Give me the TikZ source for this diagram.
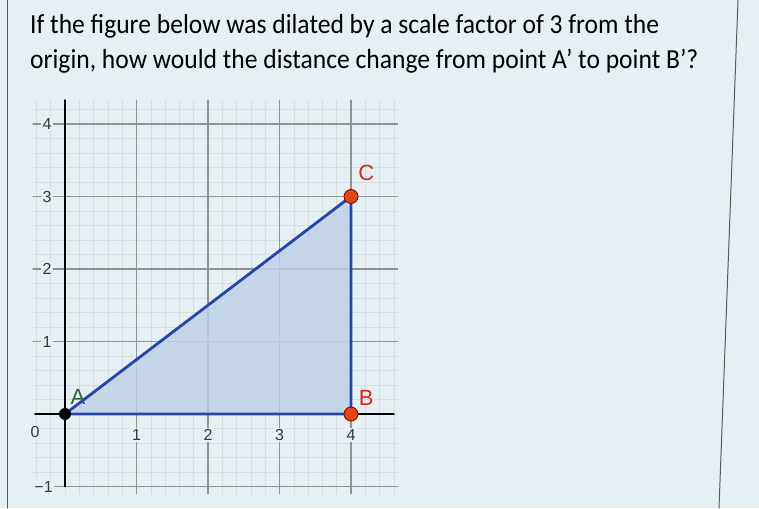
\documentclass[tikz,border=0pt]{standalone}
\usepackage{fontspec}
\setmainfont{Carlito}
\newfontfamily\questionfont[FakeStretch=0.93]{Carlito}
\newfontfamily\labelfont{Liberation Sans}
\usetikzlibrary{positioning}

\begin{document}
\begin{tikzpicture}
		[x=1pt,y=1pt,line cap=round,
		%Styles
		grid major/.style={draw=gridgray,line width=1.1pt},
		grid minor/.style={draw=gridfaint,line width=0.6pt},
		axes/.style={black,line width=1.6pt},
		side/.style={draw=sideblue,line width=2.8pt,line join=round},
		tick label/.style={font=\labelfont\fontsize{16}{16}\selectfont,text=ticktext,fill=bgcol,inner sep=1.5pt},
		vertex/.style={circle,inner sep=0pt,minimum size=#1},
		vertex name/.style={font=\labelfont\fontsize{22}{22}\selectfont,inner sep=0pt},
		question/.style={font=\questionfont\fontsize{27.5}{30}\selectfont,anchor=base west,inner sep=0pt}
		]
		
		%Colors
		\definecolor{bgcol}{RGB}{230,240,244}
		\definecolor{gridgray}{RGB}{140,148,148}
		\definecolor{gridfaint}{RGB}{210,222,224}
		\definecolor{ticktext}{RGB}{55,55,55}
		\definecolor{sideblue}{RGB}{35,70,170}
		\definecolor{triblue}{RGB}{192,210,232}
		\definecolor{vertexred}{RGB}{225,70,20}
		\definecolor{labelgreen}{RGB}{50,100,60}
		\definecolor{labelred}{RGB}{215,40,35}
		
		%The page
		\useasboundingbox (0,0) rectangle (759,508);
		\fill[bgcol] (0,0) rectangle (759,508);
		\draw[gray!70!black,line width=1pt] (7,0) -- (7,508);
		\draw[gray!70!black,line width=1pt] (719,0) -- (738,508);
		
		\node[question] (q1) at (30,474) {If the figure below was dilated by a scale factor of 3 from the};
		\node[question] (q2) at (30,439) {origin, how would the distance change from point A’ to point B’?};
		
		%The graphic
		\begin{scope}[shift={(65pt,94pt)},x=71.5pt,y=72.5pt]
			\draw[grid minor] (-0.45,-1.1) grid[step=0.2] (4.65,4.33);
			\foreach \x in {1,...,4}
				\draw[grid major] (\x,-1.1) -- (\x,4.33);
			\foreach \y in {-1,1,2,3,4}
				\draw[grid major] (-0.45,\y) -- (4.65,\y);
			
			\draw[axes] (0,-1) -- (0,4.33);
			\draw[axes] (-0.42,0) -- (4.6,0);
			
			\foreach \y in {1,...,4}
				\node[tick label] (ylab\y) at (-0.25,\y) {\y};
			\node[tick label] (ylabm) at (-0.3,-1) {−1};
			\foreach \x in {1,...,4}
				\node[tick label] (xlab\x) at (\x,-0.29) {\x};
			\node[tick label] (xlab0) at (-0.42,-0.25) {0};
			
			\coordinate (A) at (0,0);
			\coordinate (B) at (4,0);
			\coordinate (C) at (4,3);
			
			\fill[triblue,opacity=0.85] (A) -- (B) -- (C) -- cycle;
			\draw[side] (A) -- (B) -- (C) -- cycle;
			
			\node[vertex=12pt,fill=black] (Adot) at (A) {};
			\node[vertex=14pt,fill=vertexred,draw=red!50!black,line width=0.8pt] (Bdot) at (B) {};
			\node[vertex=14pt,fill=vertexred,draw=red!50!black,line width=0.8pt] (Cdot) at (C) {};
			
			\node[vertex name,text=labelgreen,above right=5pt and 1pt of Adot] (Alab) {A};
			\node[vertex name,text=labelred,above right=3pt and 2.5pt of Bdot] (Blab) {B};
			\node[vertex name,text=labelred,above right=10pt and 2pt of Cdot] (Clab) {C};
		\end{scope}
	\end{tikzpicture}
\end{document}
